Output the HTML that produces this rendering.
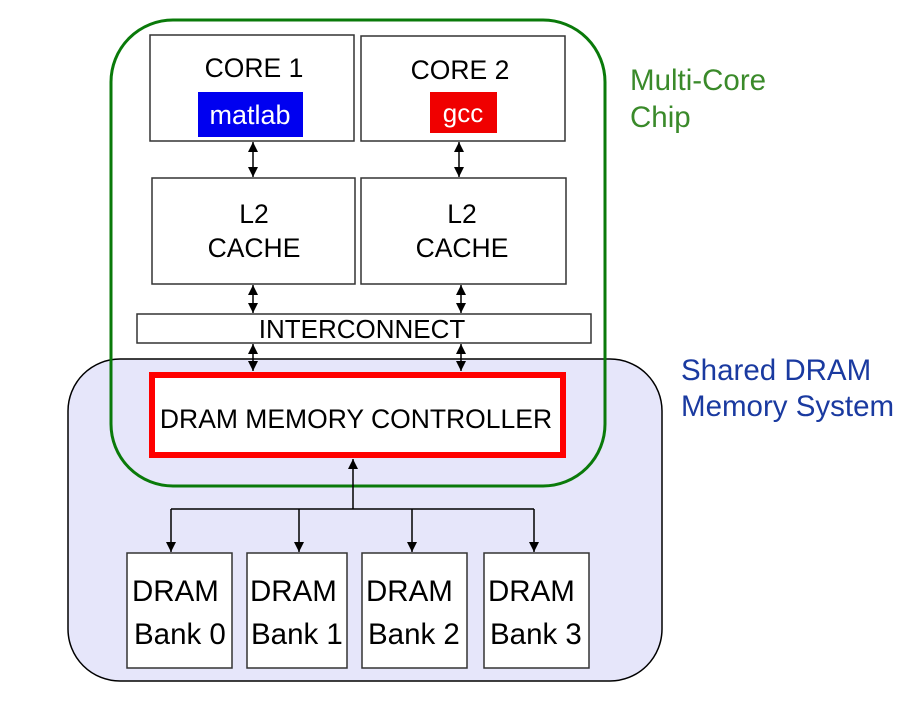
<!DOCTYPE html>
<html><head><meta charset="utf-8"><style>
html,body{margin:0;padding:0;background:#fff;}
svg{display:block;font-family:"Liberation Sans",Arial,sans-serif;}
</style></head><body>
<svg width="920" height="712" viewBox="0 0 920 712" xmlns="http://www.w3.org/2000/svg">
<defs>
<marker id="a" viewBox="0 0 10 10" refX="10" refY="5" markerWidth="11" markerHeight="10" orient="auto-start-reverse" markerUnits="userSpaceOnUse"><path d="M0,0 L10,5 L0,10 z" fill="#000"/></marker>
</defs>
<rect x="68" y="359" width="594" height="322" rx="52" fill="#e6e6fa" stroke="#000" stroke-width="1.5"/>
<rect x="111" y="20" width="494" height="466" rx="62" fill="none" stroke="#0a7a0a" stroke-width="3"/>
<rect x="150" y="35" width="204" height="106" fill="#fff" stroke="#333" stroke-width="1.5"/>
<text x="254" y="77" font-size="26.5" text-anchor="middle">CORE 1</text>
<rect x="198" y="92" width="105" height="45" fill="#0000f0"/>
<text x="250" y="124" font-size="27" fill="#fff" text-anchor="middle">matlab</text>
<rect x="361" y="36" width="204" height="105" fill="#fff" stroke="#333" stroke-width="1.5"/>
<text x="460" y="79" font-size="26.5" text-anchor="middle">CORE 2</text>
<rect x="430" y="92" width="67" height="41" fill="#f00000"/>
<text x="463" y="122" font-size="26" fill="#fff" text-anchor="middle">gcc</text>
<rect x="152" y="178" width="203" height="106" fill="#fff" stroke="#333" stroke-width="1.5"/>
<text x="254" y="223" font-size="26.5" text-anchor="middle">L2</text>
<text x="254" y="257" font-size="26.5" text-anchor="middle">CACHE</text>
<rect x="361" y="178" width="205" height="106" fill="#fff" stroke="#333" stroke-width="1.5"/>
<text x="462" y="223" font-size="26.5" text-anchor="middle">L2</text>
<text x="462" y="257" font-size="26.5" text-anchor="middle">CACHE</text>
<rect x="137" y="314" width="454" height="29" fill="#fff" stroke="#333" stroke-width="1.5"/>
<text x="362" y="338" font-size="26" text-anchor="middle">INTERCONNECT</text>
<rect x="152" y="375" width="411" height="80" fill="#fff" stroke="#f00" stroke-width="6"/>
<text x="356" y="428" font-size="26.5" text-anchor="middle">DRAM MEMORY CONTROLLER</text>
<g stroke="#000" stroke-width="1.5" marker-start="url(#a)" marker-end="url(#a)">
<line x1="253" y1="142" x2="253" y2="177"/>
<line x1="459" y1="142" x2="459" y2="177"/>
<line x1="253" y1="285" x2="253" y2="313"/>
<line x1="461" y1="285" x2="461" y2="313"/>
<line x1="253" y1="344" x2="253" y2="371"/>
<line x1="461" y1="344" x2="461" y2="371"/>
</g>
<line x1="353" y1="509" x2="353" y2="459" stroke="#000" stroke-width="1.5" marker-end="url(#a)"/>
<line x1="171" y1="509" x2="534" y2="509" stroke="#000" stroke-width="1.5"/>
<g stroke="#000" stroke-width="1.5" marker-end="url(#a)">
<line x1="171" y1="509" x2="171" y2="552"/>
<line x1="299" y1="509" x2="299" y2="552"/>
<line x1="412" y1="509" x2="412" y2="552"/>
<line x1="534" y1="509" x2="534" y2="552"/>
</g>
<g fill="#fff" stroke="#333" stroke-width="1.5">
<rect x="127" y="553" width="105" height="115"/>
<rect x="247" y="553" width="100" height="115"/>
<rect x="362" y="553" width="105" height="115"/>
<rect x="484" y="553" width="105" height="115"/>
</g>
<g font-size="29.5">
<text x="132" y="601">DRAM</text><text x="134" y="644">Bank 0</text>
<text x="250" y="601">DRAM</text><text x="251" y="644">Bank 1</text>
<text x="366" y="601">DRAM</text><text x="368" y="644">Bank 2</text>
<text x="488" y="601">DRAM</text><text x="490" y="644">Bank 3</text>
</g>
<text x="630" y="90" font-size="29.5" fill="#3a8a2a">Multi-Core</text>
<text x="630" y="127" font-size="29.5" fill="#3a8a2a">Chip</text>
<text x="681" y="380" font-size="29.5" fill="#1a3aa0">Shared DRAM</text>
<text x="681" y="416" font-size="29.5" fill="#1a3aa0">Memory System</text>
</svg>
</body></html>
